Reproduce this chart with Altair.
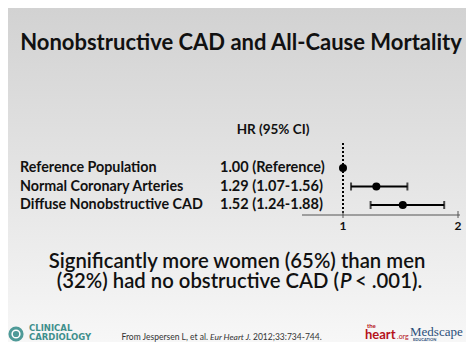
import altair as alt
import pandas as pd

# ---- data ----
groups = ["Reference Population", "Normal Coronary Arteries", "Diffuse Nonobstructive CAD"]
hr = [1.00, 1.29, 1.52]
ci_low = [None, 1.07, 1.24]
ci_high = [None, 1.56, 1.88]
hr_labels = ["1.00 (Reference)", "1.29 (1.07-1.56)", "1.52 (1.24-1.88)"]
axis_ticks = [1, 2]
reference_hr = [1]

title_text = "Nonobstructive CAD and All-Cause Mortality"
header_text = "HR (95% CI)"
body_line1 = "Significantly more women (65%) than men"
body_line2a = "(32%) had no obstructive CAD ("
body_line2b = "P"
body_line2c = "< .001)."
foot_a = "From Jespersen L, et al."
foot_b = "Eur Heart J."
foot_c = "2012;33:734-744."

W, H = 458, 334
FONT = "Lato"

rows = pd.DataFrame({"group": groups, "hr": hr, "lo": ci_low, "hi": ci_high, "label": hr_labels})
ci = rows.dropna()
ticks_df = pd.DataFrame({"v": axis_ticks, "t": [str(t) for t in axis_ticks]})
ref_df = pd.DataFrame({"v": reference_hr})
one = pd.DataFrame({"a": [0]})

xs = alt.Scale(domain=[1, 2], range=[335, 450], nice=False, zero=False)
ys = alt.Scale(type="point", domain=groups, range=[160, 197], padding=0)

bg = alt.Chart(one).mark_rect(
    color=alt.LinearGradient(
        gradient="linear", x1=0, x2=0, y1=0, y2=1,
        stops=[alt.GradientStop(color="#d2d2d2", offset=0),
               alt.GradientStop(color="#e2e2e2", offset=0.45),
               alt.GradientStop(color="#f7f7f7", offset=1)]
    )
).encode(x=alt.value(0), x2=alt.value(W), y=alt.value(0), y2=alt.value(H))


def txt(s, x, y, size, weight="normal", align="center", color="#111111", style="normal", font=FONT):
    return alt.Chart(one).mark_text(
        text=s, fontSize=size, fontWeight=weight, align=align, baseline="middle",
        color=color, fontStyle=style, font=font
    ).encode(x=alt.value(x), y=alt.value(y))


title = txt(title_text, 233, 35, 22, "bold")
header = txt(header_text, 265, 122, 13.5, "bold")

row_labels = alt.Chart(rows).mark_text(
    align="left", baseline="middle", fontSize=14.3, fontWeight="bold", font=FONT, color="#111111"
).encode(x=alt.value(12), y=alt.Y("group:N", scale=ys, axis=None), text="group:N")

hr_text = alt.Chart(rows).mark_text(
    align="left", baseline="middle", fontSize=14.5, fontWeight="bold", font=FONT, color="#111111"
).encode(x=alt.value(212), y=alt.Y("group:N", scale=ys, axis=None), text="label:N")

dotted = alt.Chart(ref_df).mark_rule(strokeDash=[2, 2], strokeWidth=2, color="#000000").encode(
    x=alt.X("v:Q", scale=xs, axis=None), y=alt.value(135), y2=alt.value(207)
)

axis_line = alt.Chart(one).mark_rule(color="#555555", strokeWidth=1).encode(
    x=alt.value(294), x2=alt.value(452), y=alt.value(207)
)
axis_ticks_m = alt.Chart(ticks_df).mark_rule(color="#555555", strokeWidth=1).encode(
    x=alt.X("v:Q", scale=xs, axis=None), y=alt.value(203), y2=alt.value(210)
)
tick_labels = alt.Chart(ticks_df).mark_text(
    fontSize=12, fontWeight="bold", font=FONT, baseline="middle", color="#111111"
).encode(x=alt.X("v:Q", scale=xs, axis=None), y=alt.value(218), text="t:N")

bars = alt.Chart(ci).mark_rule(strokeWidth=2, color="#000000").encode(
    x=alt.X("lo:Q", scale=xs, axis=None), x2="hi:Q", y=alt.Y("group:N", scale=ys, axis=None)
)
cap_lo = alt.Chart(ci).mark_tick(size=8, thickness=2, color="#000000", orient="vertical").encode(
    x=alt.X("lo:Q", scale=xs, axis=None), y=alt.Y("group:N", scale=ys, axis=None)
)
cap_hi = alt.Chart(ci).mark_tick(size=8, thickness=2, color="#000000", orient="vertical").encode(
    x=alt.X("hi:Q", scale=xs, axis=None), y=alt.Y("group:N", scale=ys, axis=None)
)
points = alt.Chart(rows).mark_circle(size=65, color="#000000", opacity=1).encode(
    x=alt.X("hr:Q", scale=xs, axis=None), y=alt.Y("group:N", scale=ys, axis=None)
)

BS = 20.3
body1 = txt(body_line1, 229, 254, BS, 600)
body2a = txt(body_line2a, 331, 274, BS, 600, align="right")
body2b = txt(body_line2b, 332, 274, BS, 600, align="left", style="italic")
body2c = txt(body_line2c, 347, 274, BS, 600, align="left")

foot1 = txt(foot_a, 200, 329, 8.5, align="right", color="#333333")
foot2 = txt(foot_b, 202, 329, 8.5, align="left", color="#333333", style="italic")
foot3 = txt(foot_c, 245, 329, 8.5, align="left", color="#333333")

logo_circle = alt.Chart(one).mark_circle(size=230, color="#4e9a98", opacity=1).encode(
    x=alt.value(8), y=alt.value(326)
)
logo_swirl = alt.Chart(one).mark_point(size=60, color="#ffffff", strokeWidth=1.5, opacity=1, filled=False).encode(
    x=alt.value(8), y=alt.value(326)
)
clin1 = txt("CLINICAL", 21, 320, 8.5, "bold", align="left", color="#3f8f8c", font="DejaVu Sans")
clin2 = txt("CARDIOLOGY", 21, 329, 8.5, "bold", align="left", color="#3f8f8c", font="DejaVu Sans")

the_t = txt("the", 359, 318, 6, "bold", align="left", color="#b5121b")
heart_t = txt("heart", 357, 327, 13, "bold", align="left", color="#b5121b")
org_t = txt(".org", 389, 329, 7, align="left", color="#b5121b")
med_t = txt("Medscape", 402, 324, 13, align="left", color="#2b4f7a", font="Liberation Serif")
edu_t = txt("EDUCATION", 405, 332, 4, "bold", align="left", color="#2b4f7a")

chart = alt.layer(
    bg, title, header, row_labels, hr_text, dotted, axis_line, axis_ticks_m, tick_labels,
    bars, cap_lo, cap_hi, points, body1, body2a, body2b, body2c, foot1, foot2, foot3,
    logo_circle, logo_swirl, clin1, clin2, the_t, heart_t, org_t, med_t, edu_t
).properties(
    width=W, height=H, padding=0, autosize=alt.AutoSizeParams(type="none")
).configure_view(stroke=None)

chart.save("out.html", embed_options={"renderer": "svg", "actions": False})
